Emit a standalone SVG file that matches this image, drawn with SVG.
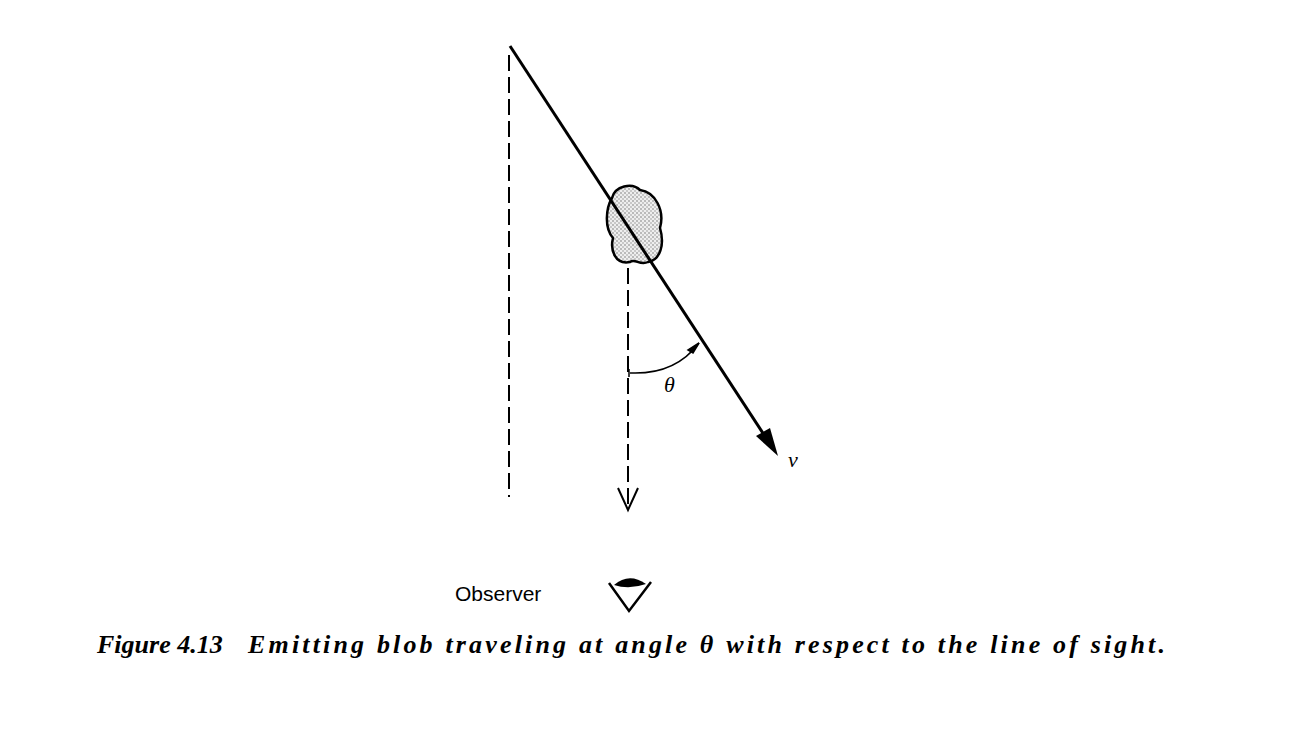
<svg xmlns="http://www.w3.org/2000/svg" width="1290" height="731" viewBox="0 0 1290 731">
<defs>
<pattern id="dots" width="4" height="4" patternUnits="userSpaceOnUse"><rect width="4" height="4" fill="#eee"/><circle cx="1" cy="1" r="0.8" fill="#777"/><circle cx="3" cy="3" r="0.8" fill="#999"/></pattern>
</defs>
<style>.dash{stroke:#000;stroke-width:2;stroke-dasharray:16,6;fill:none}.cap{font-family:"Liberation Serif",serif;font-style:italic;font-weight:bold;font-size:26px}</style>
<rect width="1290" height="731" fill="#fff"/>
<g id="blob"><path d="M612,198 C615,186 632,182 640,190 C655,192 665,210 660,228 C665,245 660,260 648,262 C640,266 635,258 630,262 C615,265 610,250 613,238 C604,228 606,208 612,198 Z" fill="url(#dots)" stroke="#000" stroke-width="2.5"/></g>
<g id="connectors">
<line x1="509" y1="55" x2="509" y2="497" class="dash"/>
<line x1="628" y1="268" x2="628" y2="508" class="dash"/>
<path d="M618,488 L628,510 L638,488" fill="none" stroke="#000" stroke-width="2"/>
<line x1="510" y1="46" x2="770" y2="444" stroke="#000" stroke-width="3"/>
<path d="M778,456 L756,436 L770,428 Z" fill="#000"/>
<path d="M630,373 Q675,375 699,343" fill="none" stroke="#000" stroke-width="1.5"/>
<path d="M699,343 L688,350 L693,353 Z" fill="#000" stroke="#000" stroke-width="1.5"/>
<line x1="629" y1="369" x2="629" y2="377" stroke="#000" stroke-width="1.5"/>
</g>
<text x="664" y="392" font-family="Liberation Serif, serif" font-style="italic" font-size="22">θ</text>
<text x="788" y="467" font-family="Liberation Serif, serif" font-style="italic" font-size="22">v</text>
<g id="observer">
<path d="M609,583 L629,611 L651,582" fill="none" stroke="#000" stroke-width="2.5"/>
<path d="M614,585 Q629,572 646,584 Q629,590 614,585 Z" fill="#000"/>
</g>
<text x="455" y="601" font-family="Liberation Sans, sans-serif" font-size="21">Observer</text>
<text x="97" y="653" class="cap">Figure 4.13</text>
<text x="248" y="653" class="cap" textLength="917" lengthAdjust="spacing">Emitting blob traveling at angle θ with respect to the line of sight.</text>
</svg>
